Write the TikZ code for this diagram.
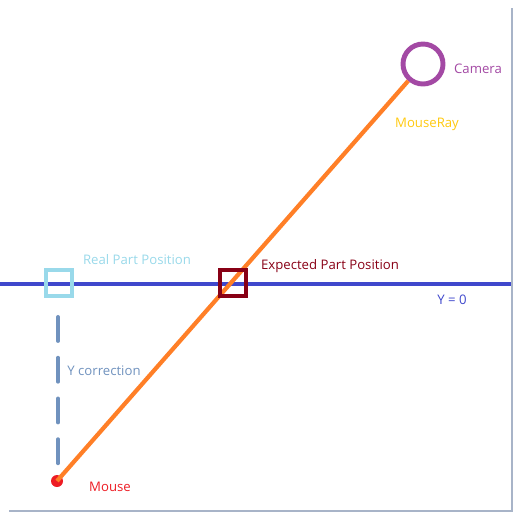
\documentclass[tikz,border=0pt]{standalone}
\usepackage{fontspec}
\setmainfont{Open Sans}
\definecolor{campurple}{HTML}{A349A4}
\definecolor{rayorange}{HTML}{FF7F27}
\definecolor{raygold}{HTML}{FFC90E}
\definecolor{planeblue}{HTML}{3F48CC}
\definecolor{realblue}{HTML}{99D9EA}
\definecolor{expred}{HTML}{880015}
\definecolor{corrblue}{HTML}{7092BE}
\definecolor{mousered}{HTML}{ED1C24}
\definecolor{edgegray}{HTML}{A8B4C8}
\tikzset{
  txt/.style={inner sep=0pt, font=\fontsize{7.5}{9}\selectfont},
  partbox/.style={rectangle, draw=#1, line width=2.6pt, minimum size=0.52cm, inner sep=0pt},
}
\begin{document}
\begin{tikzpicture}[x=0.02cm, y=-0.02cm]
    \useasboundingbox (0, 0) rectangle (513, 512);

    % frame edges of the screenshot
    \draw[edgegray, line width=0.6pt] (512, 8) -- (512, 512);
    \draw[edgegray, line width=0.6pt] (9, 511) -- (512, 511);

    % the plane Y = 0
    \coordinate (plane_l) at (0, 284);
    \coordinate (plane_r) at (511, 284);
    \draw[planeblue, line width=2.8pt] (plane_l) -- (plane_r);

    \node[circle, draw=campurple, line width=2.8pt, minimum size=0.8cm, inner sep=0pt] (camera) at (423, 64) {};
    \node[circle, fill=mousered, minimum size=0.24cm, inner sep=0pt] (mouse) at (57, 481) {};
    \node[partbox=realblue] (real) at (59, 283) {};

    % the ray
    \draw[rayorange, line width=2.4pt] (mouse.center) -- (camera);

    \node[partbox=expred] (expected) at (233, 283) {};

    % correction
    \coordinate (corr_top) at (58, 317);
    \coordinate (corr_bot) at (58, 464);
    \draw[corrblue, line width=2.3pt, line cap=round, dash pattern=on 13.6pt off 9.6pt] (corr_top) -- (corr_bot);

    \node[txt, text=campurple] (camera_label) at (478, 69) {Camera};
    \node[txt, text=raygold] (ray_label) at (427, 124) {MouseRay};
    \node[txt, text=realblue] (real_label) at (137, 260) {Real Part Position};
    \node[txt, text=expred] (expected_label) at (330, 266) {Expected Part Position};
    \node[txt, text=planeblue] (plane_label) at (452, 300) {Y = 0};
    \node[txt, text=corrblue] (corr_label) at (104, 371) {Y correction};
    \node[txt, text=mousered] (mouse_label) at (110, 487) {Mouse};

  \end{tikzpicture}
\end{document}
